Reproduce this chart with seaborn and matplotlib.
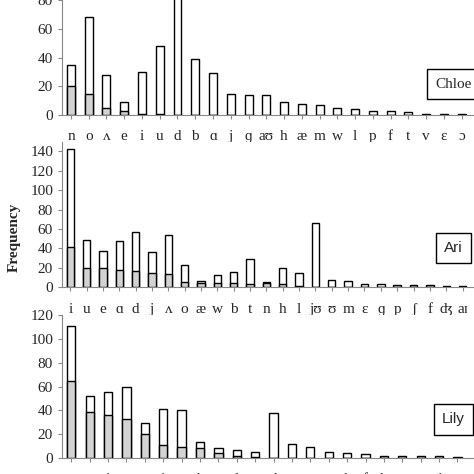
import matplotlib
matplotlib.use("Agg")
import matplotlib.pyplot as plt
import seaborn as sns
import pandas as pd

# ========== DATA ========== #
CHLOE_LABELS = ["n", "o", "ʌ", "e", "i", "u", "d", "b", "ɑ", "j", "ɡ", "aʊ", "h", "æ",
                "m", "w", "l", "p", "f", "t", "v", "ɛ", "ɔ"]
CHLOE_TOTAL = [35, 68, 28, 9, 30, 48, 85, 39, 29, 15, 14, 14, 9, 8, 7, 5, 4, 3, 3, 2, 1, 1, 1]
CHLOE_GREY = [20, 15, 5, 3, 1, 1, 0, 0, 0, 0, 0, 0, 0, 0, 0, 0, 0, 0, 0, 0, 0, 0, 0]

ARI_LABELS = ["i", "u", "e", "ɑ", "d", "j", "ʌ", "o", "æ", "w", "b", "t", "n", "h", "l",
              "jʊ", "ʊ", "m", "ɛ", "ɡ", "p", "ʃ", "f", "ʤ", "aɪ"]
ARI_TOTAL = [142, 49, 37, 48, 57, 36, 54, 23, 6, 13, 16, 29, 5, 20, 15, 66, 7, 6, 3, 3, 2, 2, 2, 1, 1]
ARI_GREY = [41, 20, 20, 18, 17, 15, 14, 5, 4, 4, 4, 3, 4, 3, 1, 0, 0, 0, 0, 0, 0, 0, 0, 0, 0]

LILY_LABELS = ["m", "n", "i", "u", "e", "i", "a", "b", "o", "l", "æ", "d", "t", "w",
               "s", "k", "f", "h", "ɛ", "ʌ", "j", "p"]
LILY_TOTAL = [111, 52, 55, 60, 29, 41, 40, 13, 8, 7, 5, 38, 12, 9, 5, 4, 3, 2, 2, 2, 2, 1]
LILY_GREY = [65, 39, 36, 33, 20, 11, 9, 8, 4, 2, 1, 0, 0, 0, 0, 0, 0, 0, 0, 0, 0, 0]

PANELS = [
    ("Chloe", CHLOE_LABELS, CHLOE_TOTAL, CHLOE_GREY, [0.757, 1.0], 80, 22.7),
    ("Ari", ARI_LABELS, ARI_TOTAL, ARI_GREY, [0.394, 0.701], 150, 24.7),
    ("Lily", LILY_LABELS, LILY_TOTAL, LILY_GREY, [0.034, 0.335], 120, 21.9),
]

sns.set_style("white")
plt.rcParams["font.family"] = ["Liberation Serif", "DejaVu Serif"]

fig = plt.figure(figsize=(4.74, 4.74), dpi=100)

for name, labels, total, grey, (bot, top), ymax, xmax in PANELS:
    ax = fig.add_axes([0.131, bot, 1.0 - 0.131, top - bot])
    df = pd.DataFrame({"pos": range(len(labels)), "total": total, "grey": grey})
    sns.barplot(data=df, x="pos", y="total", color="white", edgecolor="black",
                linewidth=1.0, width=0.45, ax=ax, native_scale=True)
    sns.barplot(data=df, x="pos", y="grey", color="#d3d3d3", edgecolor="black",
                linewidth=1.0, width=0.45, ax=ax, native_scale=True)
    ax.set_xlim(-0.5, xmax)
    ax.set_ylim(0, ymax)
    ax.set_yticks(range(0, ymax + 1, 20))
    ax.set_xticks(range(len(labels)))
    ax.set_xticklabels(labels, fontsize=11)
    ax.set_xlabel("")
    ax.set_ylabel("")
    ax.tick_params(axis="y", labelsize=11, left=True, length=3, color="#888888")
    ax.tick_params(axis="x", bottom=True, length=3, color="#888888", pad=8)
    for s in ["top", "right"]:
        ax.spines[s].set_visible(False)
    ax.spines["left"].set_color("#888888")
    ax.spines["bottom"].set_color("#888888")
    ax.text(0.95, 0.27, name, transform=ax.transAxes, ha="center", va="center",
            fontsize=11, family=["Liberation Sans", "DejaVu Sans"] if name != "Chloe" else None,
            bbox=dict(boxstyle="square,pad=0.55", facecolor="white", edgecolor="black"))

fig.text(0.03, 0.5, "Frequency", rotation=90, ha="center", va="center",
         fontsize=11, fontweight="bold")

fig.savefig("out.png", dpi=100)
